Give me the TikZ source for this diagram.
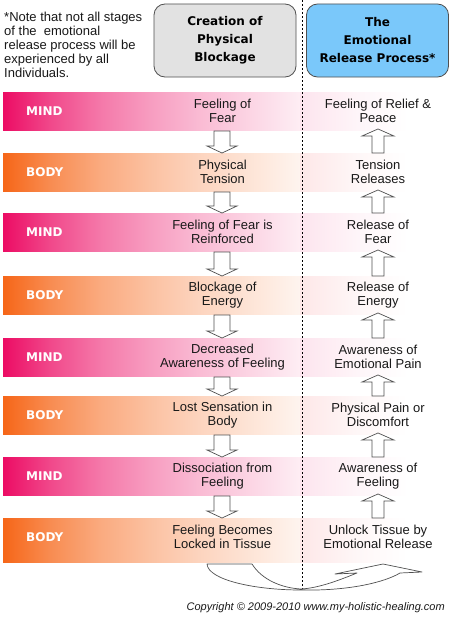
\documentclass[tikz,border=0pt]{standalone}
\usepackage{fontspec}
\setmainfont{Liberation Sans}
\newfontfamily\hdfont{DejaVu Sans}
\definecolor{mindc}{RGB}{236,12,100}
\definecolor{bodyc}{RGB}{246,102,24}
\colorlet{mindA}{mindc!75!white}
\colorlet{mindB}{mindc!55!white}
\colorlet{mindC}{mindc!40!white}
\colorlet{mindD}{mindc!28!white}
\colorlet{mindE}{mindc!15!white}
\colorlet{mindF}{mindc!7!white}
\colorlet{mindR}{mindc!11!white}
\colorlet{mindS}{mindc!4!white}
\colorlet{bodyA}{bodyc!75!white}
\colorlet{bodyB}{bodyc!55!white}
\colorlet{bodyC}{bodyc!40!white}
\colorlet{bodyD}{bodyc!28!white}
\colorlet{bodyE}{bodyc!15!white}
\colorlet{bodyF}{bodyc!7!white}
\colorlet{bodyR}{mindc!50!bodyc!12!white}
\colorlet{bodyS}{mindc!50!bodyc!4!white}
\definecolor{hgray}{RGB}{226,226,226}
\definecolor{hblue}{RGB}{122,200,250}
\definecolor{edge}{RGB}{80,80,80}
\definecolor{txt}{RGB}{25,25,25}
\pgfdeclarehorizontalshading{mindsh}{100bp}{color(0bp)=(mindc); color(25bp)=(mindc); color(33bp)=(mindA); color(41.5bp)=(mindB); color(50bp)=(mindC); color(58bp)=(mindD); color(68.5bp)=(mindE); color(75bp)=(mindF); color(100bp)=(mindF)}
\pgfdeclarehorizontalshading{bodysh}{100bp}{color(0bp)=(bodyc); color(25bp)=(bodyc); color(33bp)=(bodyA); color(41.5bp)=(bodyB); color(50bp)=(bodyC); color(58bp)=(bodyD); color(68.5bp)=(bodyE); color(75bp)=(bodyF); color(100bp)=(bodyF)}
\pgfdeclarehorizontalshading{mindrsh}{100bp}{color(0bp)=(mindR); color(25bp)=(mindR); color(45bp)=(mindS); color(62bp)=(white); color(100bp)=(white)}
\pgfdeclarehorizontalshading{bodyrsh}{100bp}{color(0bp)=(bodyR); color(25bp)=(bodyR); color(45bp)=(bodyS); color(62bp)=(white); color(100bp)=(white)}
\tikzset{
  hbox/.style={draw=edge, line width=0.8pt, rounded corners=11pt, minimum width=142pt, minimum height=73pt, align=center, inner sep=0pt, font=\hdfont\bfseries\fontsize{12}{18}\selectfont, text=black},
  lab/.style={anchor=west, inner sep=0pt, text=white, font=\hdfont\bfseries\fontsize{12}{14}\selectfont},
  stxt/.style={align=center, inner sep=0pt, text=txt, font=\fontsize{13}{14.5}\selectfont},
  arrline/.style={draw=edge, fill=white, line width=0.7pt, line join=miter},
  divider/.style={draw=black, line width=0.6pt, dash pattern=on 2pt off 2pt}
}
\newcommand\myDnArr[2]{\draw[arrline] (214,#1) -- (214,{#2-7}) -- (207,{#2-7}) -- (222,#2) -- (237,{#2-7}) -- (230,{#2-7}) -- (230,#1) -- cycle;}
\newcommand\myUpArr[2]{\draw[arrline] (378,#1) -- (394,{#1+7}) -- (384,{#1+7}) -- (384,#2) -- (372,#2) -- (372,{#1+7}) -- (362,{#1+7}) -- cycle;}
\begin{document}
\begin{tikzpicture}[x=1pt,y=-1pt]
\useasboundingbox[fill=white] (0,0) rectangle (450,618);
% bands
\foreach \t/\b/\k in {92/130/mind,153/191/body,213/251/mind,276/314/body,338/376/mind,396/434/body,457/495/mind,518/562/body}{
  \shade[shading=\k sh] (3,\t) rectangle (300.5,\b);
  \shade[shading=\k rsh] (300,\t) rectangle (446,\b);
}
% divider
\coordinate (dtop) at (302,0);
\coordinate (dbot) at (302,589);
\draw[divider] (dtop) -- (dbot);
% header
\node[anchor=north west, align=left, inner sep=0pt, text=txt, font=\fontsize{13}{14.2}\selectfont] (note) at (4,11.5)
  {*Note that not all stages\\of the\ \ emotional\\release process will be\\experienced by all\\Individuals.};
\node[hbox, fill=hgray] (h1) at (225,40.5) {Creation of\\Physical\\Blockage};
\node[hbox, fill=hblue] (h2) at (377.5,40.5) {The\\Emotional\\Release Process*};
% labels and texts
\foreach \y/\lab/\c/\r [count=\i] in {
  111/MIND/{Feeling of\\Fear}/{Feeling of Relief \&\\Peace},
  172/BODY/{Physical\\Tension}/{Tension\\Releases},
  232/MIND/{Feeling of Fear is\\Reinforced}/{Release of\\Fear},
  295/BODY/{Blockage of\\Energy}/{Release of\\Energy},
  357/MIND/{Decreased\\Awareness of Feeling}/{Awareness of\\Emotional Pain},
  415/BODY/{Lost Sensation in\\Body}/{Physical Pain or\\Discomfort},
  476/MIND/{Dissociation from\\Feeling}/{Awareness of\\Feeling},
  537/BODY/{Feeling Becomes\\Locked in Tissue}/{Unlock Tissue by\\Emotional Release}}{
  \node[lab] (l\i) at (26,{\y+0.5}) {\lab};
  \node[stxt] (c\i) at (222.5,\y) {\c};
  \node[stxt] (r\i) at (378,\y) {\r};
}
% block arrows
\foreach \b/\t in {130/153,191/213,251/276,314/338,376/396,434/457,495/518}{
  \myDnArr{\b+1}{\t}
  \myUpArr{\b-1}{\t}
}
% bottom curved arrow
\draw[arrline, line join=round] (207,564) -- (252,564)
  .. controls (262,580) and (282,588) .. (301,589)
  .. controls (320,588) and (342,579) .. (357,573)
  -- (335,574) -- (383,564) -- (422,572) -- (400,573)
  .. controls (385,582) and (350,591) .. (301,590)
  .. controls (255,590) and (208,580) .. (207,564) -- cycle;
% copyright
\node[anchor=east, inner sep=0pt, text=txt, font=\itshape\fontsize{11}{13}\selectfont] (copy) at (445,608)
  {Copyright \textcopyright{} 2009-2010 www.my-holistic-healing.com};
\end{tikzpicture}
\end{document}
